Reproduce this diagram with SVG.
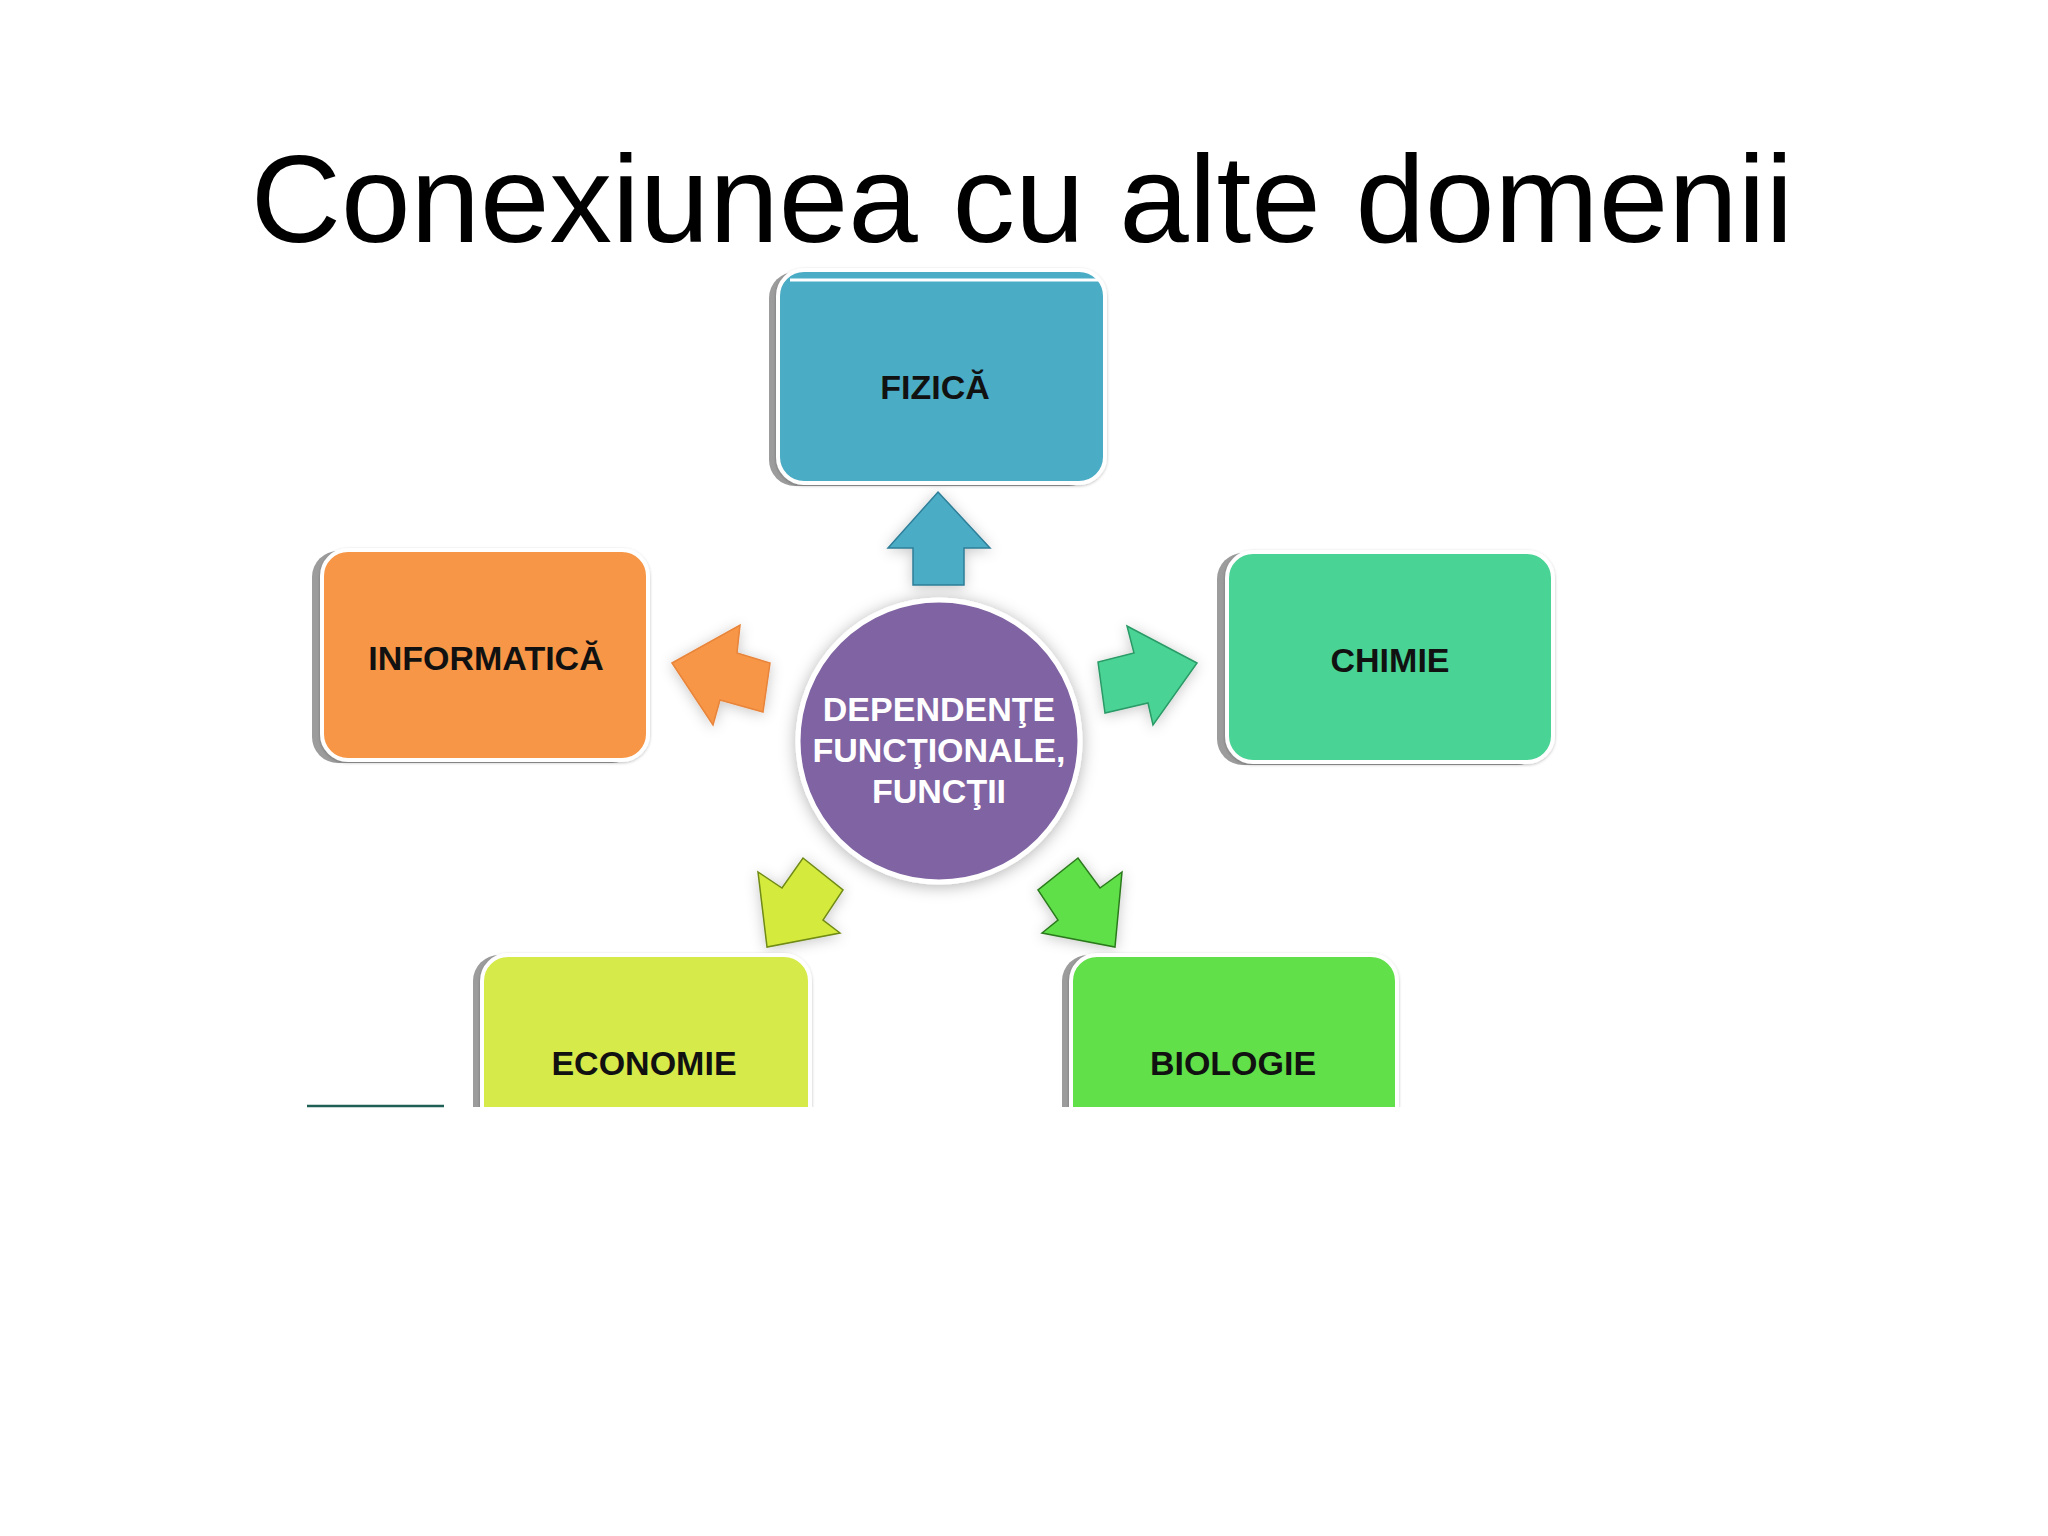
<svg xmlns="http://www.w3.org/2000/svg" width="2048" height="1536" viewBox="0 0 2048 1536">
  <defs>
    <style>
      .title { font-family: "Liberation Sans", Arial, sans-serif; font-size: 125px; fill: #000; }
      .lbl { font-family: "Liberation Sans", Arial, sans-serif; font-size: 34px; font-weight: bold; fill: #111; text-anchor: middle; }
      .clbl { font-family: "Liberation Sans", Arial, sans-serif; font-size: 34px; font-weight: bold; fill: #fff; text-anchor: middle; }
      .shadowbox { fill: #9c9c9c; }
      .box { stroke: #ffffff; stroke-width: 4; }
      .arrow { stroke-width: 1.5; stroke-linejoin: miter; filter: url(#soft); }
    </style>
    <filter id="soft" x="-40%" y="-40%" width="180%" height="180%">
      <feDropShadow dx="0" dy="2" stdDeviation="7" flood-color="#000" flood-opacity="0.22"/>
    </filter>
    <filter id="glow" x="-20%" y="-20%" width="140%" height="140%">
      <feDropShadow dx="0" dy="2" stdDeviation="8" flood-color="#000" flood-opacity="0.3"/>
    </filter>
    <filter id="boxglow" x="-10%" y="-10%" width="120%" height="120%">
      <feDropShadow dx="0" dy="1" stdDeviation="1.5" flood-color="#000" flood-opacity="0.25"/>
    </filter>
    <clipPath id="cutBottom">
      <rect x="0" y="0" width="2048" height="1107"/>
    </clipPath>
  </defs>

  <rect width="2048" height="1536" fill="#ffffff"/>

  <text class="title" x="1022" y="242" text-anchor="middle">Conexiunea cu alte domenii</text>

  <g id="connectors">
    <polygon class="arrow" fill="#4BACC6" stroke="#2e7e98" points="938,492 990,548 964,548 964,585 913,585 913,548 888,548"/>
    <polygon class="arrow" fill="#F79646" stroke="#e8843a" points="672,663 740,625 737,653 770,663 763,712 720,700 713,725"/>
    <polygon class="arrow" fill="#4AD395" stroke="#2a9a66" points="1197,663 1127,626 1134,653 1098,662 1105,713 1148,703 1153,725"/>
    <polygon class="arrow" fill="#D4EA3E" stroke="#6f8a14" points="767,947 758,872 782,888 803,858 843,890 823,920 840,933"/>
    <polygon class="arrow" fill="#5FE04A" stroke="#2c7a1c" points="1115,947 1122,872 1100,888 1078,858 1038,890 1058,920 1042,933"/>
  </g>

  <g id="node-center">
    <circle cx="939" cy="741" r="141" fill="#8064A2" stroke="#ffffff" stroke-width="5" filter="url(#glow)"/>
    <text class="clbl" x="939" y="721">DEPENDENŢE</text>
    <text class="clbl" x="939" y="762">FUNCŢIONALE,</text>
    <text class="clbl" x="939" y="803">FUNCŢII</text>
  </g>

  <g id="node-fizica">
    <rect class="shadowbox" x="769" y="272" width="326" height="214" rx="26"/>
    <rect class="box" x="778" y="270" width="327" height="213" rx="26" fill="#4BACC6" filter="url(#boxglow)"/>
    <line x1="790" y1="280" x2="1098" y2="280" stroke="#ffffff" stroke-width="3"/>
    <text class="lbl" x="935" y="399">FIZICĂ</text>
  </g>

  <g id="node-informatica">
    <rect class="shadowbox" x="312" y="551" width="326" height="212" rx="26"/>
    <rect class="box" x="322" y="550" width="326" height="210" rx="26" fill="#F79646" filter="url(#boxglow)"/>
    <text class="lbl" x="486" y="670">INFORMATICĂ</text>
  </g>

  <g id="node-chimie">
    <rect class="shadowbox" x="1217" y="553" width="326" height="212" rx="26"/>
    <rect class="box" x="1227" y="552" width="326" height="210" rx="26" fill="#4AD395" filter="url(#boxglow)"/>
    <text class="lbl" x="1390" y="672">CHIMIE</text>
  </g>

  <g id="node-economie" clip-path="url(#cutBottom)">
    <rect class="shadowbox" x="473" y="955" width="326" height="212" rx="26"/>
    <rect class="box" x="482" y="955" width="328" height="210" rx="26" fill="#D6EA4A" filter="url(#boxglow)"/>
    <text class="lbl" x="644" y="1075">ECONOMIE</text>
  </g>

  <g id="node-biologie" clip-path="url(#cutBottom)">
    <rect class="shadowbox" x="1062" y="955" width="326" height="212" rx="26"/>
    <rect class="box" x="1071" y="955" width="326" height="210" rx="26" fill="#62E04A" filter="url(#boxglow)"/>
    <text class="lbl" x="1233" y="1075">BIOLOGIE</text>
  </g>

  <line x1="307" y1="1106" x2="444" y2="1106" stroke="#1f5f55" stroke-width="2.5"/>
</svg>
